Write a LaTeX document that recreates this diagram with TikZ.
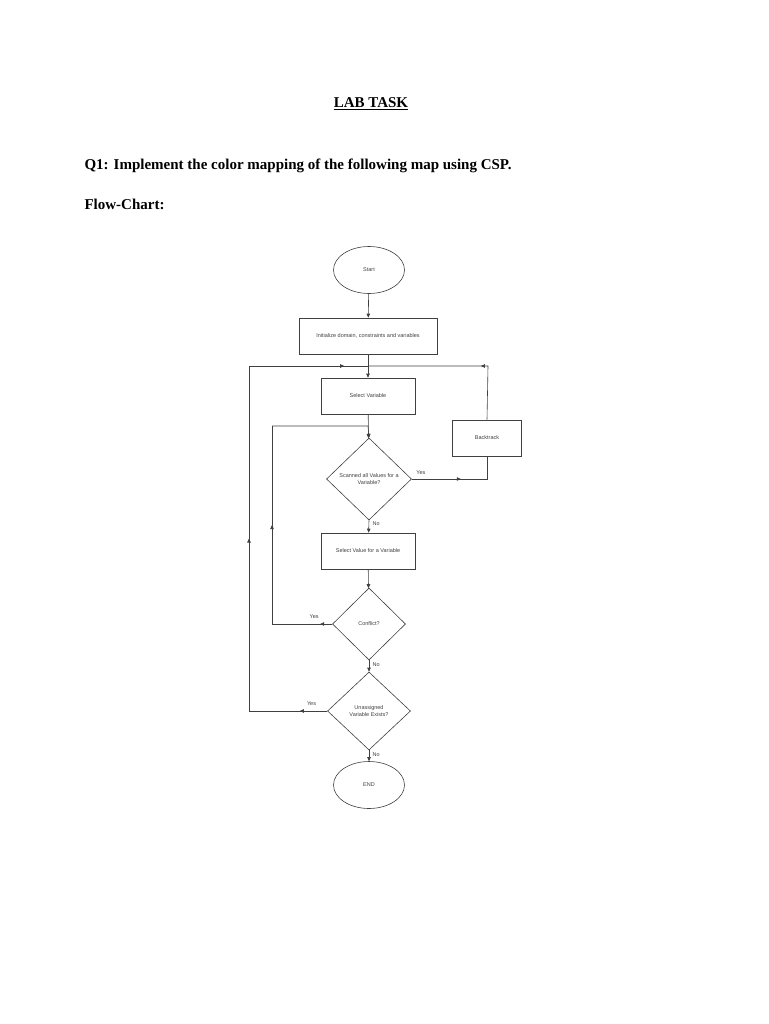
\documentclass[tikz,border=0pt]{standalone}
\usepackage{fontspec}
\setmainfont{Liberation Serif}
\newfontfamily\flowfont{Liberation Sans}
\usetikzlibrary{shapes.geometric,arrows.meta,decorations.markings}
\begin{document}
\begin{tikzpicture}[x=1pt,y=-1pt,
  ln/.style={draw=black!75,line width=0.6pt},
  box/.style={ln,rectangle,inner sep=0pt,font=\flowfont\fontsize{5.5}{6.5}\selectfont,text=black!75},
  oval/.style={ln,ellipse,minimum width=71pt,minimum height=47pt,inner sep=0pt,font=\flowfont\fontsize{5.5}{6.5}\selectfont,text=black!75},
  dia/.style={ln,diamond,inner sep=0pt,font=\flowfont\fontsize{5.5}{6.5}\selectfont,text=black!75,align=center},
  lbl/.style={font=\flowfont\fontsize{5.5}{6.5}\selectfont,text=black!75},
  arr/.style={ln,-{Triangle[length=4pt,width=3.5pt]}},
  mid/.style={ln,postaction={decorate},decoration={markings,mark=at position #1 with {\arrow{Triangle[length=4pt,width=3.5pt]}}}},
  hd/.style={font=\bfseries\fontsize{15}{18}\selectfont}]
\useasboundingbox (0,0) rectangle (768,1024);
\node[hd] (title) at (371,104) {\underline{LAB TASK}};
\node[hd,anchor=west] (q1) at (81,166) {Q1: Implement the color mapping of the following map using CSP.};
\node[hd,anchor=west] (fc) at (81,204) {Flow-Chart:};

\node[oval] (start) at (369,270) {Start};
\node[box,minimum width=138pt,minimum height=36pt] (init) at (368,336) {Initialize domain, constraints and variables};
\node[box,minimum width=94pt,minimum height=36pt] (selv) at (368,396) {Select Variable};
\node[box,minimum width=69pt,minimum height=36pt] (back) at (487,438) {Backtrack};
\node[dia,minimum width=85pt,minimum height=82pt] (scan) at (369,479) {Scanned all Values for a\\Variable?};
\node[box,minimum width=94pt,minimum height=36pt] (selval) at (368,551) {Select Value for a Variable};
\node[dia,minimum width=73pt,minimum height=72pt] (conf) at (369,624) {Conflict?};
\node[dia,minimum width=83pt,minimum height=78pt] (unas) at (369,711) {Unassigned\\Variable Exists?};
\node[oval] (end) at (369,785) {END};

\coordinate (j1) at (368,366);
\coordinate (j2) at (368,426);
\coordinate (lx) at (249,366);
\coordinate (bx) at (488,366);

\draw[arr] (start) -- (init);
\draw[arr] (init) -- (selv);
\draw[arr] (selv) -- (scan);
\draw[mid=0.5] (scan.east) -| (back.south) node[lbl,pos=0.06,above=1pt]{Yes};
\draw[mid=0.35] (back.north) -- (bx) -- (j1);
\draw[arr] (scan.south) -- (selval) node[lbl,pos=0.25,right=0pt]{No};
\draw[arr] (selval) -- (conf);
\draw[mid=0.2] (conf.west) -- (272,624) node[lbl,pos=0.3,above=2pt]{Yes};
\draw[mid=0.5] (272,624) -- (272,426);
\draw[arr] (272,426) -- (j2) -- (scan.north);
\draw[arr] (conf.south) -- (unas.north) node[lbl,pos=0.4,right=0pt]{No};
\draw[mid=0.35] (unas.west) -- (249,711) node[lbl,pos=0.2,above=2pt]{Yes};
\draw[mid=0.5] (249,711) -- (lx);
\draw[mid=0.8] (lx) -- (j1);
\draw[arr] (unas.south) -- (end) node[lbl,pos=0.4,right=0pt]{No};
\end{tikzpicture}
\end{document}
